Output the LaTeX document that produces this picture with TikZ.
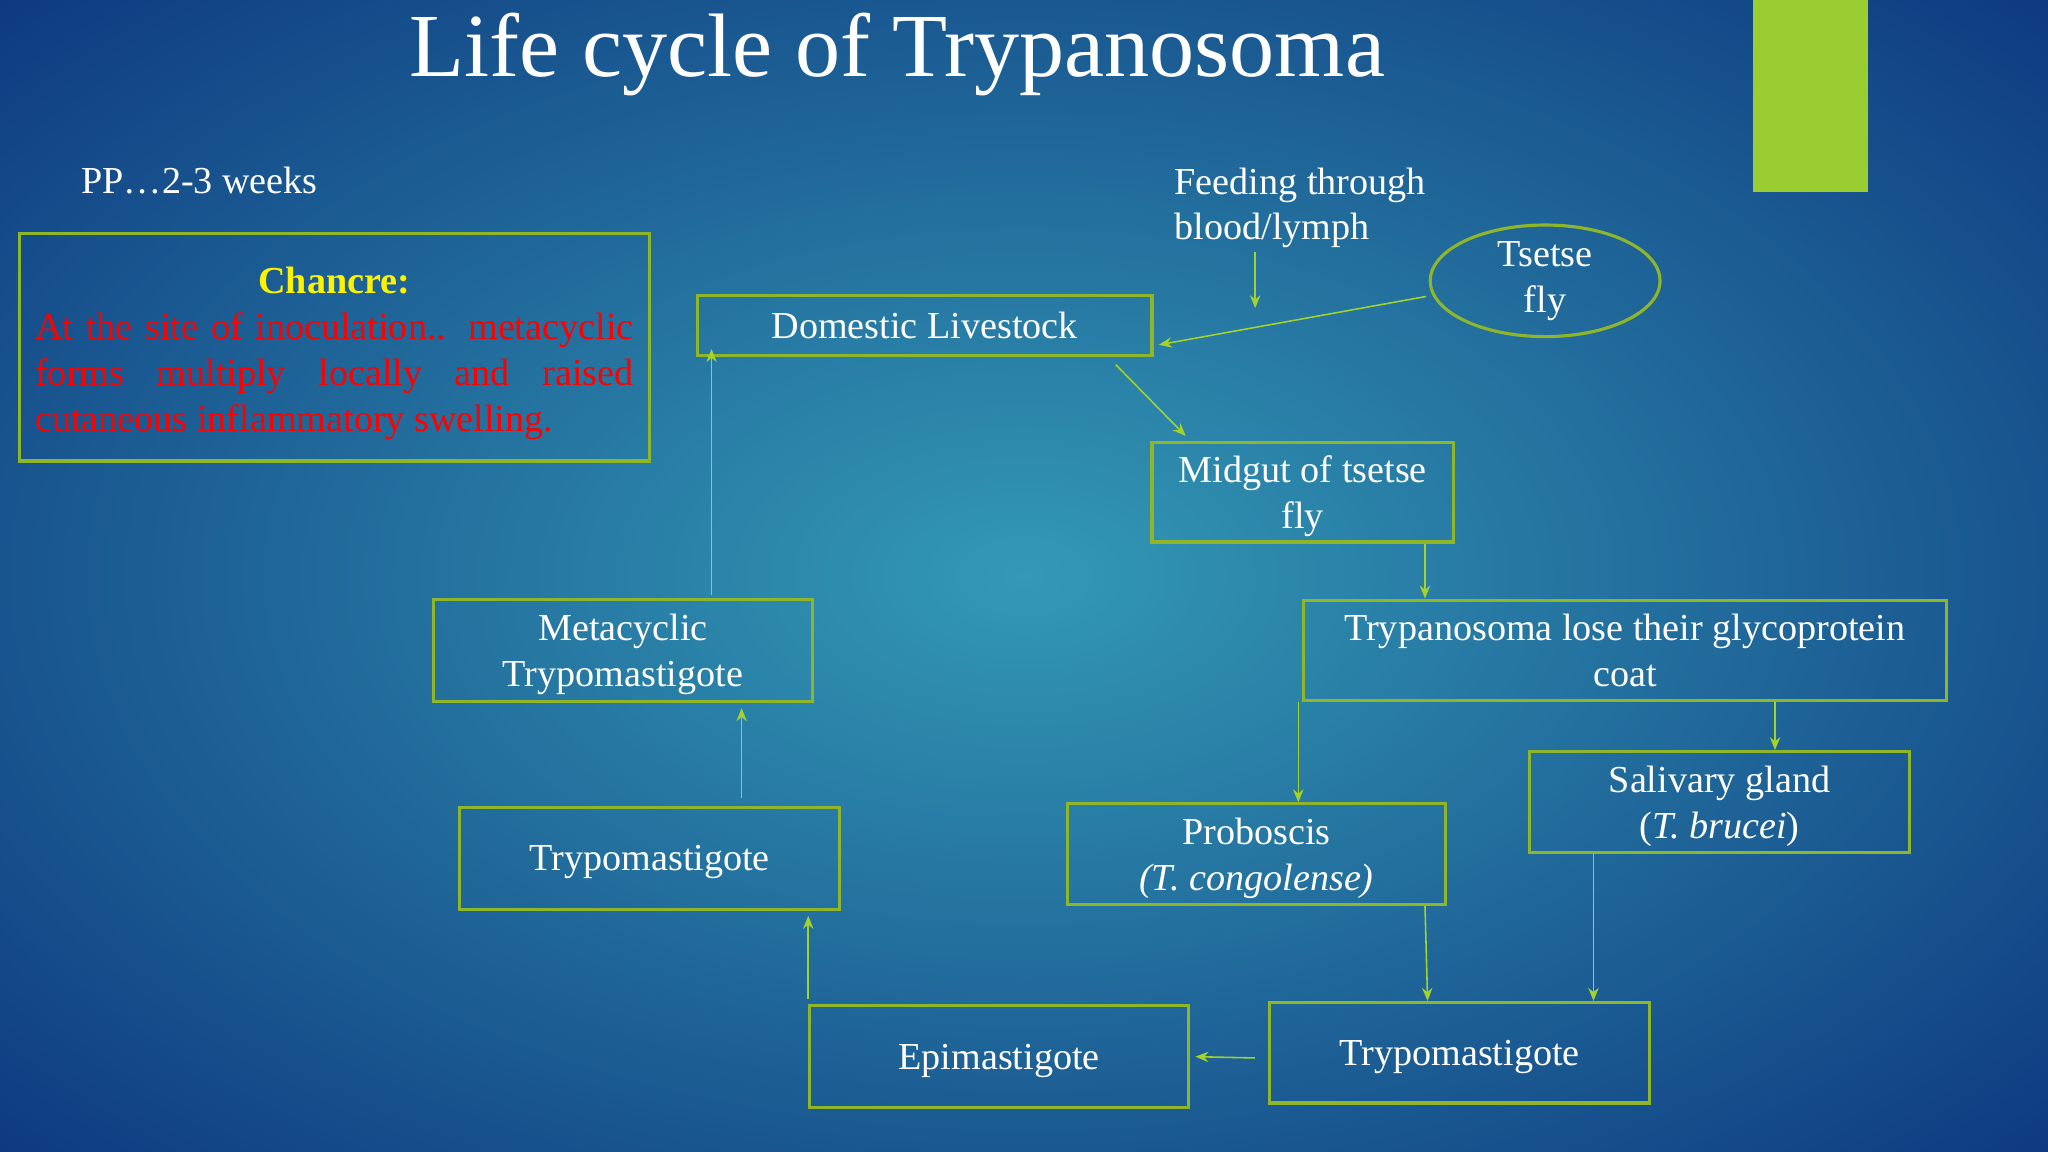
\documentclass[tikz,border=0pt]{standalone}
\usepackage{fontspec}
\setmainfont{Liberation Serif}
\usetikzlibrary{arrows.meta,shapes.geometric,calc}
\definecolor{bgin}{HTML}{3399B5}
\definecolor{bgout}{HTML}{0E3A80}
\definecolor{lg}{HTML}{9ACD32}
\definecolor{bx}{HTML}{8FB52A}
\tikzset{
 box/.style={draw=bx,line width=1.2pt,minimum width=#1,text=white,font=\fontsize{14.6}{17.5}\selectfont,align=center,inner sep=0pt,text depth=0pt},
 conn/.style={draw=lg!90!yellow,line width=0.6pt,-{Stealth[length=5pt,width=4pt]}},
}
\begin{document}
\begin{tikzpicture}[x=0.5pt,y=-0.5pt]
\useasboundingbox (0,0) rectangle (1568,882);
\shade[inner color=bgin,outer color=bgout] (-300,-200) rectangle (1868,1082);
\fill[lg] (1342,0) rectangle (1430,147);
\node[text=white,font=\fontsize{34.5}{40}\selectfont] (title) at (687,42) {Life cycle of Trypanosoma};
\node[text=white,font=\fontsize{14.6}{17}\selectfont,anchor=west,inner sep=0pt] (pp) at (62,138) {PP…2-3 weeks};
% chancre
\node[draw=bx,line width=1.2pt,minimum width=241pt,minimum height=87pt] (ch) at (256,266) {};
\node[text=yellow,font=\fontsize{14.6}{17}\bfseries] (cht) at (256,215) {Chancre:};
\node[text width=229pt,align=justify,font=\fontsize{14.6}{17.7}\selectfont,text=red,inner sep=0pt] (chb) at (256,288)
{At the site of inoculation.. metacyclic\linebreak forms multiply locally and raised\linebreak cutaneous inflammatory swelling.};
% nodes
\node[box=174pt,minimum height=23pt] (dom) at (708,249) {Domestic Livestock};
\node[draw=bx,line width=1.2pt,ellipse,minimum width=88pt,minimum height=38pt,text=white,font=\fontsize{14.6}{17.5}\selectfont,align=center,inner sep=0pt] (tse) at (1183,215) {Tsetse\\fly};
\node[text=white,font=\fontsize{14.6}{17.5}\selectfont,align=left,anchor=north west,inner sep=0pt] (feed) at (899,128) {Feeding through\\blood/lymph};
\node[box=115.5pt,minimum height=38pt] (mid) at (997.5,377) {Midgut of tsetse\\fly};
\node[box=246pt,minimum height=38.5pt] (lose) at (1244,498) {Trypanosoma lose their glycoprotein\\coat};
\node[box=145pt,minimum height=39pt] (meta) at (477,498) {Metacyclic\\Trypomastigote};
\node[box=145.5pt,minimum height=38.5pt] (sal) at (1316.5,614) {Salivary gland\\(\textit{T. brucei})};
\node[box=145pt,minimum height=38.5pt] (prob) at (962,654) {Proboscis\\\textit{(T. congolense)}};
\node[box=145.5pt,minimum height=39pt] (tl) at (497.5,657) {Trypomastigote};
\node[box=145pt,minimum height=39pt] (epi) at (765,809) {Epimastigote};
\node[box=145.5pt,minimum height=38.5pt] (tr) at (1117.5,806) {Trypomastigote};
% connectors
\coordinate (fa) at (961,193); \coordinate (fb) at (961,236);
\draw[conn] (fa) -- (fb);
\draw[conn] ($(tse.west)+(-2,12)$) -- ($(dom.east)+(4,15)$);
\draw[conn] ($(dom.south east)+(-29,6)$) -- ($(mid.north west)+(27,-4)$);
\draw[conn] (mid.south -| 1091,0) -- (lose.north -| 1091,0);
\draw[conn] (lose.south -| 994,0) -- (prob.north -| 994,0);
\draw[conn] (lose.south -| 1359,0) -- (sal.north -| 1359,0);
\draw[conn] (prob.south -| 1091,0) -- (tr.north -| 1093,0);
\draw[conn] (sal.south -| 1220,0) -- (tr.north -| 1220,0);
\draw[conn] ($(tr.west)+(-10,4)$) -- ($(epi.east)+(4,0)$);
\draw[conn] ($(epi.north west)+(0,-4)$) -- ($(tl.south west)+(268,4)$);
\draw[conn] ($(tl.north west)+(217,-6)$) -- ($(meta.south west)+(237,4)$);
\draw[conn] ($(meta.north west)+(214,-2)$) -- ($(dom.south west)+(12,-6)$);
\end{tikzpicture}
\end{document}
